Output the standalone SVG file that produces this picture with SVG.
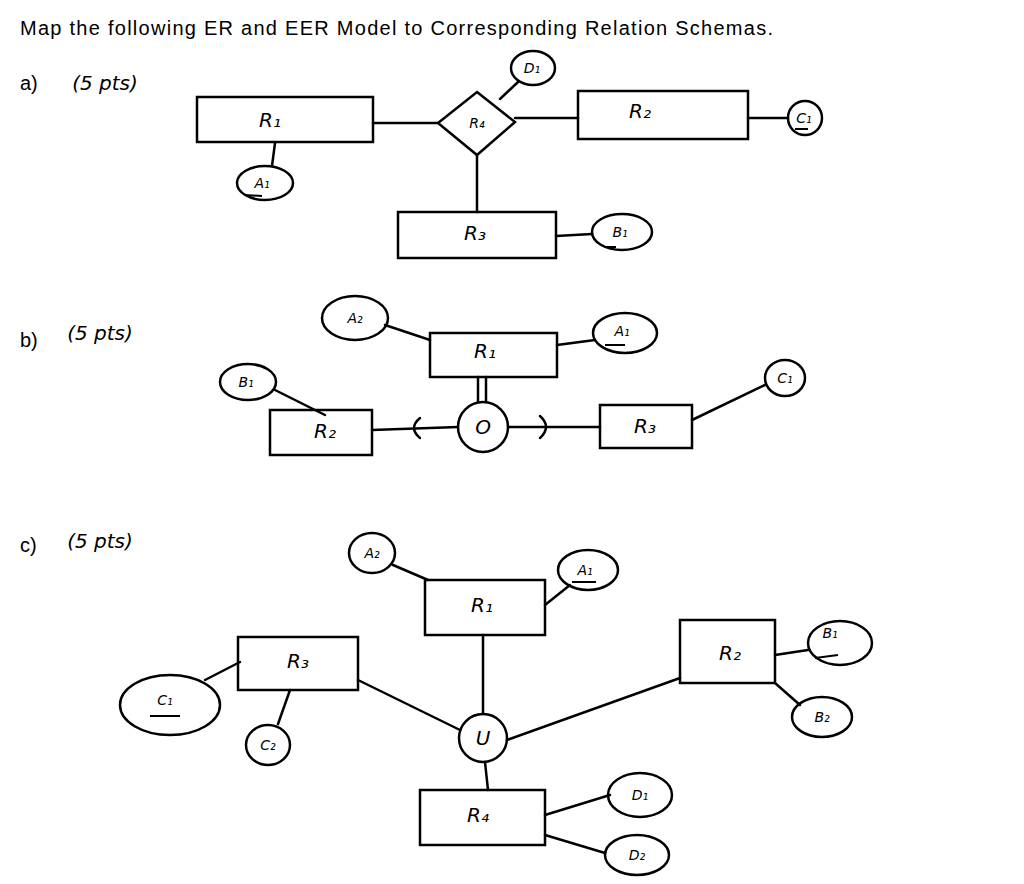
<svg xmlns="http://www.w3.org/2000/svg" width="1024" height="884" viewBox="0 0 1024 884">
<style>
.s{fill:none;stroke:#000;stroke-width:2.5;stroke-linecap:round}
.t{font-family:"Liberation Sans",sans-serif;font-size:20px;fill:#000}
.h{font-family:"DejaVu Sans",sans-serif;font-style:italic;font-size:20px;fill:#000;text-anchor:middle}
.hs{font-family:"DejaVu Sans",sans-serif;font-style:italic;font-size:14px;fill:#000;text-anchor:middle}
.u{stroke:#000;stroke-width:2}
</style>
<rect width="1024" height="884" fill="#fff"/>
<text class="t" x="20" y="35" textLength="753">Map the following ER and EER Model to Corresponding Relation Schemas.</text>
<text class="t" x="20" y="90">a)</text>
<text class="h" x="105" y="90">(5 pts)</text>
<text class="t" x="20" y="347">b)</text>
<text class="h" x="100" y="340">(5 pts)</text>
<text class="t" x="20" y="552">c)</text>
<text class="h" x="100" y="548">(5 pts)</text>

<g id="connectors" class="s">
<line x1="373" y1="123" x2="438" y2="123"/>
<line x1="515" y1="118" x2="578" y2="118"/>
<line x1="500" y1="99" x2="518" y2="82"/>
<line x1="275" y1="143" x2="272" y2="166"/>
<line x1="477" y1="155" x2="477" y2="212"/>
<line x1="748" y1="118" x2="788" y2="118"/>
<line x1="556" y1="236" x2="592" y2="234"/>
<line x1="385" y1="325" x2="430" y2="340"/>
<line x1="557" y1="345" x2="595" y2="340"/>
<line x1="275" y1="390" x2="325" y2="415"/>
<line x1="478" y1="377" x2="478" y2="402"/>
<line x1="486" y1="377" x2="486" y2="402"/>
<line x1="372" y1="430" x2="458" y2="427"/>
<path d="M420 418 Q408 428 420 438"/>
<line x1="508" y1="427" x2="600" y2="427"/>
<path d="M540 416 Q552 427 540 438"/>
<line x1="692" y1="420" x2="765" y2="385"/>
<line x1="393" y1="565" x2="428" y2="580"/>
<line x1="545" y1="605" x2="570" y2="585"/>
<line x1="205" y1="680" x2="240" y2="662"/>
<line x1="290" y1="690" x2="278" y2="724"/>
<line x1="775" y1="655" x2="808" y2="650"/>
<line x1="775" y1="683" x2="800" y2="705"/>
<line x1="483" y1="635" x2="483" y2="714"/>
<line x1="358" y1="680" x2="460" y2="730"/>
<line x1="507" y1="740" x2="680" y2="678"/>
<line x1="485" y1="762" x2="488" y2="790"/>
<line x1="545" y1="815" x2="610" y2="795"/>
<line x1="545" y1="835" x2="605" y2="853"/>
</g>

<g id="a_R1"><rect class="s" x="197" y="97" width="176" height="45"/><text class="h" x="270" y="127">R₁</text></g>
<g id="a_A1"><ellipse class="s" cx="265" cy="183" rx="28" ry="17"/><text class="hs" x="262" y="188">A₁</text><line class="u" x1="245" y1="195" x2="262" y2="196"/></g>
<g id="a_R4"><polygon class="s" points="477,92 515,122 477,155 438,123"/><text class="hs" x="477" y="128">R₄</text></g>
<g id="a_D1"><ellipse class="s" cx="533" cy="68" rx="22" ry="17"/><text class="hs" x="532" y="73">D₁</text></g>
<g id="a_R2"><rect class="s" x="578" y="91" width="170" height="48"/><text class="h" x="640" y="118">R₂</text></g>
<g id="a_C1"><ellipse class="s" cx="805" cy="118" rx="17" ry="17"/><text class="hs" x="804" y="123">C₁</text><line class="u" x1="795" y1="129" x2="808" y2="129"/></g>
<g id="a_R3"><rect class="s" x="398" y="212" width="158" height="46"/><text class="h" x="475" y="240">R₃</text></g>
<g id="a_B1"><ellipse class="s" cx="622" cy="232" rx="30" ry="18"/><text class="hs" x="620" y="237">B₁</text><line class="u" x1="606" y1="247" x2="616" y2="247"/></g>

<g id="b_A2"><ellipse class="s" cx="355" cy="318" rx="33" ry="22"/><text class="hs" x="355" y="323">A₂</text></g>
<g id="b_R1"><rect class="s" x="430" y="333" width="127" height="44"/><text class="h" x="485" y="358">R₁</text></g>
<g id="b_A1"><ellipse class="s" cx="625" cy="333" rx="32" ry="20"/><text class="hs" x="622" y="336">A₁</text><line class="u" x1="605" y1="345" x2="625" y2="345"/></g>
<g id="b_B1"><ellipse class="s" cx="248" cy="382" rx="28" ry="18"/><text class="hs" x="246" y="387">B₁</text></g>
<g id="b_R2"><rect class="s" x="270" y="410" width="102" height="45"/><text class="h" x="325" y="438">R₂</text></g>
<g id="b_d"><circle class="s" cx="483" cy="427" r="25"/><text class="h" x="483" y="434">O</text></g>
<g id="b_R3"><rect class="s" x="600" y="405" width="92" height="43"/><text class="h" x="645" y="433">R₃</text></g>
<g id="b_C1"><ellipse class="s" cx="785" cy="378" rx="20" ry="18"/><text class="hs" x="785" y="383">C₁</text></g>

<g id="c_A2"><ellipse class="s" cx="372" cy="553" rx="23" ry="20"/><text class="hs" x="372" y="558">A₂</text></g>
<g id="c_R1"><rect class="s" x="425" y="580" width="120" height="55"/><text class="h" x="482" y="612">R₁</text></g>
<g id="c_A1"><ellipse class="s" cx="588" cy="570" rx="30" ry="20"/><text class="hs" x="585" y="575">A₁</text><line class="u" x1="572" y1="582" x2="596" y2="582"/></g>
<g id="c_R3"><rect class="s" x="238" y="637" width="120" height="53"/><text class="h" x="298" y="668">R₃</text></g>
<g id="c_C1"><ellipse class="s" cx="170" cy="705" rx="50" ry="30"/><text class="hs" x="165" y="705">C₁</text><line class="u" x1="150" y1="716" x2="180" y2="716"/></g>
<g id="c_C2"><ellipse class="s" cx="268" cy="745" rx="22" ry="20"/><text class="hs" x="268" y="750">C₂</text></g>
<g id="c_R2"><rect class="s" x="680" y="620" width="95" height="63"/><text class="h" x="730" y="660">R₂</text></g>
<g id="c_B1"><ellipse class="s" cx="840" cy="643" rx="32" ry="22"/><text class="hs" x="830" y="638">B₁</text><line class="u" x1="815" y1="658" x2="838" y2="655"/></g>
<g id="c_B2"><ellipse class="s" cx="822" cy="717" rx="30" ry="20"/><text class="hs" x="822" y="722">B₂</text></g>
<g id="c_U"><circle class="s" cx="483" cy="738" r="24"/><text class="h" x="483" y="745">U</text></g>
<g id="c_R4"><rect class="s" x="420" y="790" width="125" height="55"/><text class="h" x="478" y="822">R₄</text></g>
<g id="c_D1"><ellipse class="s" cx="640" cy="795" rx="32" ry="22"/><text class="hs" x="640" y="800">D₁</text></g>
<g id="c_D2"><ellipse class="s" cx="637" cy="855" rx="32" ry="20"/><text class="hs" x="637" y="860">D₂</text></g>
</svg>
